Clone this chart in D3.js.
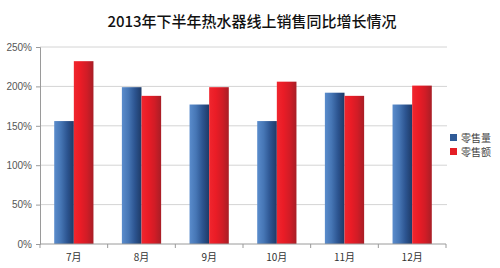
<!DOCTYPE html>
<html>
<head>
  <meta charset="utf-8">
  <title>2013年下半年热水器线上销售同比增长情况</title>
  <style>
    body {
      margin: 0;
      background-color: white;
      font-family: "Noto Sans CJK SC", "Liberation Sans", Arial, sans-serif;
    }
    svg { display: block; }
  </style>
  <script src="https://d3js.org/d3.v7.min.js"></script>
</head>
<body>
  <div id="chart"></div>
  <script>
    // Data
    const months = ["7月", "8月", "9月", "10月", "11月", "12月"];
    const seriesNames = ["零售量", "零售额"];
    const volume = [156, 199, 177, 156, 192, 177];
    const revenue = [232, 188, 199, 206, 188, 201];
    const yTicks = [0, 50, 100, 150, 200, 250];

    const width = 500, height = 268;
    const margin = {top: 47, right: 54, bottom: 24, left: 40};
    const innerW = 446 - margin.left, innerH = 244 - margin.top;

    const svg = d3.select("#chart").append("svg")
      .attr("width", width)
      .attr("height", height);

    // gradients for the bars
    const defs = svg.append("defs");
    const grads = [
      {id: "g-blue", stops: ["#5a8ccc", "#4676b5", "#2c5490", "#1e3a66"]},
      {id: "g-red", stops: ["#f0262e", "#ea1c26", "#d11c26", "#a81e26"]}
    ];
    grads.forEach(g => {
      const lg = defs.append("linearGradient").attr("id", g.id)
        .attr("x1", "0%").attr("x2", "100%").attr("y1", "0%").attr("y2", "0%");
      g.stops.forEach((c, i) => {
        lg.append("stop").attr("offset", `${100 * i / (g.stops.length - 1)}%`).attr("stop-color", c);
      });
    });

    // title
    svg.append("text")
      .attr("x", 252)
      .attr("y", 27)
      .attr("text-anchor", "middle")
      .attr("font-size", 15)
      .attr("font-weight", 500)
      .attr("fill", "#111")
      .text("2013年下半年热水器线上销售同比增长情况");

    const g = svg.append("g")
      .attr("transform", `translate(${margin.left},${margin.top})`);

    const x = d3.scaleBand()
      .domain(months)
      .range([0, innerW])
      .paddingInner(0.42)
      .paddingOuter(0.21);

    const xSub = d3.scaleBand()
      .domain(seriesNames)
      .range([0, x.bandwidth()]);

    const y = d3.scaleLinear()
      .domain([0, 250])
      .range([innerH, 0]);

    // gridlines
    g.append("g")
      .selectAll("line")
      .data(yTicks.filter(d => d > 0))
      .enter().append("line")
      .attr("x1", 0)
      .attr("x2", innerW + 1)
      .attr("y1", d => y(d))
      .attr("y2", d => y(d))
      .attr("stroke", "#d4d4d4")
      .attr("stroke-width", 1);

    // y axis
    const yAxis = g.append("g")
      .call(d3.axisLeft(y).tickValues(yTicks).tickFormat(d => d + "%").tickSize(4).tickPadding(4));
    yAxis.select(".domain").attr("stroke", "#9a9a9a");
    yAxis.selectAll(".tick line").attr("stroke", "#9a9a9a");
    yAxis.selectAll("text")
      .attr("fill", "#555")
      .attr("font-size", 10)
      .attr("font-family", "Liberation Sans, Arial, sans-serif");

    // bars
    const data = months.map((m, i) => ({month: m, values: [volume[i], revenue[i]]}));
    const groups = g.selectAll(".grp")
      .data(data)
      .enter().append("g")
      .attr("transform", d => `translate(${x(d.month)},0)`);

    groups.selectAll("rect")
      .data(d => d.values.map((v, j) => ({name: seriesNames[j], value: v, j})))
      .enter().append("rect")
      .attr("x", d => xSub(d.name))
      .attr("y", d => y(d.value))
      .attr("width", xSub.bandwidth())
      .attr("height", d => innerH - y(d.value))
      .attr("fill", d => d.j === 0 ? "url(#g-blue)" : "url(#g-red)");

    // x axis
    const step = innerW / months.length;
    const xAxis = g.append("g")
      .attr("transform", `translate(0,${innerH})`);
    xAxis.append("line")
      .attr("x1", 0).attr("x2", innerW)
      .attr("stroke", "#9a9a9a");
    xAxis.selectAll(".sep")
      .data(d3.range(months.length + 1))
      .enter().append("line")
      .attr("x1", i => i * step)
      .attr("x2", i => i * step)
      .attr("y1", 0).attr("y2", 4)
      .attr("stroke", "#9a9a9a");
    xAxis.selectAll(".lbl")
      .data(months)
      .enter().append("text")
      .attr("x", d => x(d) + x.bandwidth() / 2)
      .attr("y", 17)
      .attr("text-anchor", "middle")
      .attr("font-size", 10)
      .attr("fill", "#333")
      .text(d => d);

    // legend
    const legend = svg.append("g")
      .attr("transform", "translate(450,133)");
    seriesNames.forEach((name, i) => {
      const row = legend.append("g").attr("transform", `translate(0,${i * 14})`);
      row.append("rect")
        .attr("width", 7).attr("height", 7)
        .attr("y", 1)
        .attr("fill", i === 0 ? "#2f5b97" : "#e41e26");
      row.append("text")
        .attr("x", 11)
        .attr("y", 8.5)
        .attr("font-size", 10)
        .attr("fill", "#444")
        .text(name);
    });
  </script>
</body>
</html>
